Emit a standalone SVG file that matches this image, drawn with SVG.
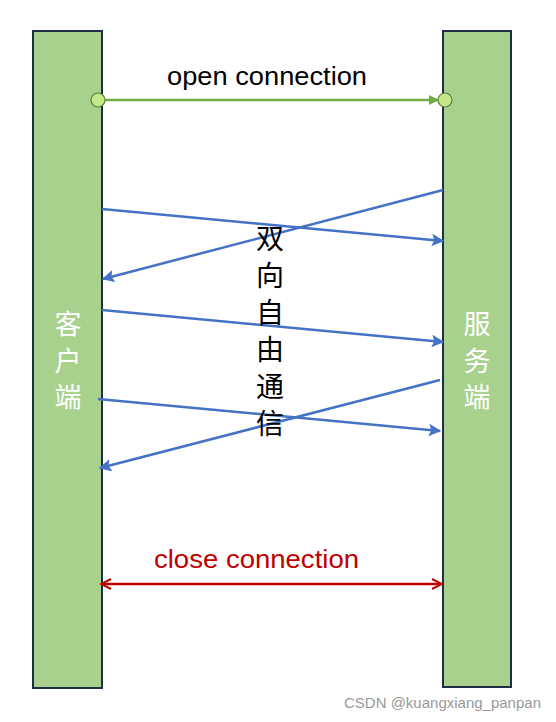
<svg xmlns="http://www.w3.org/2000/svg" width="556" height="722" viewBox="0 0 556 722">
<style>
.bar{fill:#a9d18e;stroke:#1f2d4a;stroke-width:2}
.side{font-family:"Noto Sans CJK SC",sans-serif;font-size:27px;fill:#ffffff;text-anchor:middle}
.mid{font-family:"Noto Sans CJK SC",sans-serif;font-size:28px;fill:#000;text-anchor:middle}
.lbl{font-family:"Liberation Sans","Noto Sans",sans-serif;font-size:25px;text-anchor:middle}
.blue{stroke:#4472c4;stroke-width:2.5;fill:none;marker-end:url(#ab)}
</style>
<defs>
<marker id="ab" viewBox="0 0 10 10" refX="9" refY="5" markerWidth="5" markerHeight="5" orient="auto" markerUnits="strokeWidth"><path d="M0,0 L10,5 L0,10 L2,5 Z" fill="#4472c4"/></marker>
<marker id="ag" viewBox="0 0 10 10" refX="9" refY="5" markerWidth="4" markerHeight="4" orient="auto" markerUnits="strokeWidth"><path d="M0,0 L10,5 L0,10 Z" fill="#70ad47"/></marker>
<marker id="ar" viewBox="0 0 10 10" refX="9" refY="5" markerWidth="5" markerHeight="5" orient="auto-start-reverse" markerUnits="strokeWidth"><path d="M1,1 L9,5 L1,9" fill="none" stroke="#c00000" stroke-width="1.6"/></marker>
</defs>
<g id="client">
<rect class="bar" x="33" y="31" width="69" height="657"/>
<text class="side"><tspan x="68" y="334">客</tspan><tspan x="68" y="370.5">户</tspan><tspan x="68" y="407">端</tspan></text>
</g>
<g id="server">
<rect class="bar" x="443" y="31" width="68" height="656"/>
<text class="side"><tspan x="477" y="334">服</tspan><tspan x="477" y="370.5">务</tspan><tspan x="477" y="407">端</tspan></text>
</g>
<g id="connectors">
<line x1="98" y1="100" x2="438" y2="100" stroke="#70ad47" stroke-width="2.5" marker-end="url(#ag)"/>
<circle cx="98" cy="100" r="7" fill="#c5e88a" stroke="#548235" stroke-width="1.2"/>
<circle cx="445" cy="100" r="7" fill="#c5e88a" stroke="#548235" stroke-width="1.2"/>
<line class="blue" x1="102" y1="209" x2="443" y2="241"/>
<line class="blue" x1="443" y1="190" x2="103" y2="279"/>
<line class="blue" x1="102" y1="310" x2="443" y2="342"/>
<line class="blue" x1="440" y1="380" x2="100" y2="468"/>
<line class="blue" x1="98" y1="399" x2="440" y2="431"/>
<line x1="101" y1="584" x2="442" y2="584" stroke="#c00000" stroke-width="2.5" marker-start="url(#ar)" marker-end="url(#ar)"/>
</g>
<g id="labels">
<text class="lbl" x="267" y="85" fill="#000" textLength="200" lengthAdjust="spacingAndGlyphs">open connection</text>
<text class="lbl" x="256.5" y="568" fill="#c00000" textLength="205" lengthAdjust="spacingAndGlyphs">close connection</text>
<text class="mid"><tspan x="270" y="249">双</tspan><tspan x="270" y="286">向</tspan><tspan x="270" y="323">自</tspan><tspan x="270" y="360">由</tspan><tspan x="270" y="397">通</tspan><tspan x="270" y="434">信</tspan></text>
</g>
<text x="541" y="708" font-family="'Liberation Sans','Noto Sans',sans-serif" font-size="15" fill="#999" text-anchor="end">CSDN @kuangxiang_panpan</text>
</svg>
